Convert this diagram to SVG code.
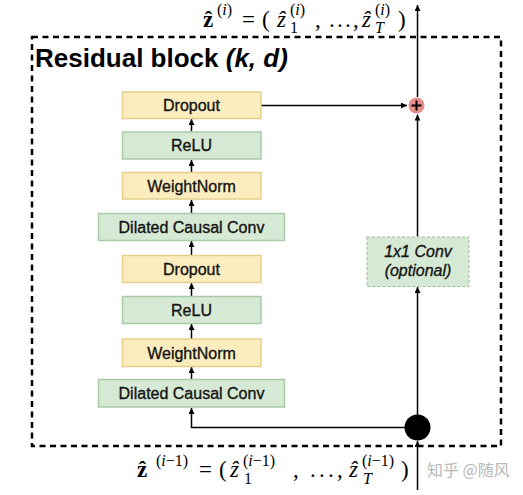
<svg xmlns="http://www.w3.org/2000/svg" width="523" height="495" viewBox="0 0 523 495">
<style>
.y{fill:#FCEDBE;stroke:#E6CF8C;stroke-width:1.5}
.g{fill:#D6E9D5;stroke:#A9CBA6;stroke-width:1.5}
.lbl{font-family:"Liberation Sans",Arial,sans-serif;font-size:16px;fill:#141414;stroke:#141414;stroke-width:0.35;text-anchor:middle}
.ln{stroke:#000;stroke-width:1.5;fill:none}
.m{font-family:"Liberation Serif","DejaVu Serif",serif;font-size:23px;fill:#000}
.s{font-size:16px}
</style>
<defs>
<marker id="a" viewBox="0 0 10 10" refX="10" refY="5" markerWidth="6" markerHeight="6" orient="auto" markerUnits="userSpaceOnUse">
<path d="M0,0 L10,5 L0,10 z" fill="#000"/>
</marker>
</defs>
<rect width="523" height="495" fill="#fff"/>
<g id="border">
<rect x="32" y="37" width="469" height="409" fill="none" stroke="#000" stroke-width="2.5" stroke-dasharray="6,4.5"/>
<text x="35" y="67" font-family="'Liberation Sans',Arial,sans-serif" font-size="26" font-weight="bold" fill="#000">Residual block <tspan font-style="italic">(k, d)</tspan></text>
</g>
<g id="connectors">
<path class="ln" d="M191.5,131.5 V119" marker-end="url(#a)"/>
<path class="ln" d="M191.5,172 V160" marker-end="url(#a)"/>
<path class="ln" d="M191.5,213 V200" marker-end="url(#a)"/>
<path class="ln" d="M191.5,255 V241" marker-end="url(#a)"/>
<path class="ln" d="M191.5,296 V283" marker-end="url(#a)"/>
<path class="ln" d="M191.5,339 V324" marker-end="url(#a)"/>
<path class="ln" d="M191.5,379 V367" marker-end="url(#a)"/>
<path class="ln" d="M417.5,427.5 H191.5 V408" marker-end="url(#a)"/>
<path class="ln" d="M261,105.5 H407" marker-end="url(#a)"/>
<path class="ln" d="M417.5,427 V287" marker-end="url(#a)"/>
<path class="ln" d="M417.5,236.5 V114.5" marker-end="url(#a)"/>
<path class="ln" d="M417.5,97 V5" marker-end="url(#a)"/>
<path class="ln" d="M417.5,490 V441" marker-end="url(#a)"/>
</g>
<g id="dropout1"><rect class="y" x="122.5" y="92" width="138.5" height="26.5"/><text class="lbl" x="191.5" y="111">Dropout</text></g>
<g id="relu1"><rect class="g" x="122.5" y="132" width="138.5" height="27"/><text class="lbl" x="191.5" y="151">ReLU</text></g>
<g id="weightnorm1"><rect class="y" x="122.5" y="172.5" width="138.5" height="26.5"/><text class="lbl" x="191.5" y="191.5">WeightNorm</text></g>
<g id="dilated1"><rect class="g" x="98.5" y="213.5" width="186" height="27"/><text class="lbl" x="191.5" y="232.5">Dilated Causal Conv</text></g>
<g id="dropout2"><rect class="y" x="122.5" y="255.5" width="138.5" height="27"/><text class="lbl" x="191.5" y="274.5">Dropout</text></g>
<g id="relu2"><rect class="g" x="122.5" y="296.5" width="138.5" height="27"/><text class="lbl" x="191.5" y="315.5">ReLU</text></g>
<g id="weightnorm2"><rect class="y" x="122.5" y="339" width="138.5" height="27.5"/><text class="lbl" x="191.5" y="358.5">WeightNorm</text></g>
<g id="dilated2"><rect class="g" x="98.5" y="379.5" width="186" height="27.5"/><text class="lbl" x="191.5" y="399">Dilated Causal Conv</text></g>
<g id="conv1x1"><rect x="367" y="237" width="102" height="49.5" fill="#D6E9D5" stroke="#9DBF9A" stroke-width="1" stroke-dasharray="3,2"/>
<text class="lbl" x="418" y="257" font-style="italic" font-size="15" stroke-width="0.2">1x1 Conv</text>
<text class="lbl" x="418" y="276" font-style="italic" font-size="15" stroke-width="0.2">(optional)</text></g>
<g id="plus"><circle cx="416.5" cy="105.5" r="8" fill="#E48F8B"/><path d="M411.5,105.5 H421.5 M416.5,100.5 V110.5" stroke="#000" stroke-width="2"/></g>
<g id="split"><circle cx="417.5" cy="427.5" r="13" fill="#000"/></g>
<g id="top-formula" class="m">
<text x="203" y="27" font-weight="bold">ẑ</text>
<text x="217" y="15" class="s">(<tspan font-style="italic">i</tspan>)</text>
<text x="242" y="27">=</text>
<text x="262" y="27">(</text>
<text x="277" y="27" font-style="italic">ẑ</text>
<text x="290" y="15" class="s">(<tspan font-style="italic">i</tspan>)</text>
<text x="290" y="33" class="s">1</text>
<text x="315" y="27">,</text>
<text x="329" y="27">.</text>
<text x="337" y="27">.</text>
<text x="345" y="27">.</text>
<text x="353" y="27">,</text>
<text x="362" y="27" font-style="italic">ẑ</text>
<text x="375" y="15" class="s">(<tspan font-style="italic">i</tspan>)</text>
<text x="375" y="33" class="s" font-style="italic">T</text>
<text x="398" y="27">)</text>
</g>
<g id="bottom-formula" class="m">
<text x="137" y="477" font-weight="bold">ẑ</text>
<text x="156" y="466" class="s">(<tspan font-style="italic">i</tspan>−1)</text>
<text x="199" y="477">=</text>
<text x="219" y="477">(</text>
<text x="230" y="477" font-style="italic">ẑ</text>
<text x="243" y="466" class="s">(<tspan font-style="italic">i</tspan>−1)</text>
<text x="244" y="484" class="s">1</text>
<text x="293" y="477">,</text>
<text x="310" y="477">.</text>
<text x="319" y="477">.</text>
<text x="328" y="477">.</text>
<text x="337" y="477">,</text>
<text x="349" y="477" font-style="italic">ẑ</text>
<text x="362" y="466" class="s">(<tspan font-style="italic">i</tspan>−1)</text>
<text x="363" y="484" class="s" font-style="italic">T</text>
<text x="401" y="477">)</text>
</g>
<text x="427" y="476" font-family="'Noto Sans CJK SC',sans-serif" font-size="16" fill="#b8b8b8">知乎 @随风</text>
</svg>
